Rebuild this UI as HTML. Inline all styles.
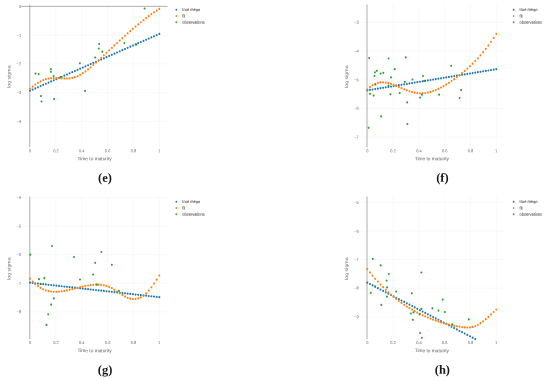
<!DOCTYPE html>
<html lang="en"><head><meta charset="utf-8"><title>Figure panels e–h</title>
<style>
html,body{margin:0;padding:0;background:#fff}
body{width:550px;height:381px;overflow:hidden}
svg{display:block}
svg text{font-family:"Liberation Sans",sans-serif;text-rendering:geometricPrecision}
.tk{font-size:4.15px;fill:#808080;stroke:#808080;stroke-width:0.06px}
.ti{font-size:4.81px;fill:#707070;stroke:#707070;stroke-width:0.05px}
.yl{font-size:5.28px;fill:#747474}
.lg{font-size:4.38px;fill:#5c5c5c;stroke:#5c5c5c;stroke-width:0.1px}
svg text.cap{font-family:"Liberation Serif",serif;font-weight:bold;font-size:12.5px;fill:#1a1a1a;stroke:none}
</style></head><body>
<svg width="550" height="381" viewBox="0 0 550 381">
<rect width="550" height="381" fill="#fff"/>
<g id="plot-e">
<path d="M55.86 4.6V147.4M81.72 4.6V147.4M107.58 4.6V147.4M133.44 4.6V147.4M159.3 4.6V147.4M22.3 35.2H167.5M22.3 63.9H167.5M22.3 92.6H167.5M22.3 121.3H167.5" stroke="#f4f4f4" stroke-width="0.55" fill="none"/>
<path d="M29.7 4.6V147.4" stroke="#c8c8c8" stroke-width="1.5" fill="none"/>
<path d="M21.1 6.4H167.5" stroke="#9e9e9e" stroke-width="0.8" fill="none"/>
<g fill="#1f77b4"><ellipse cx="30" cy="90.75" rx="1.0" ry="1.12"/><ellipse cx="32.64" cy="89.59" rx="1.0" ry="1.12"/><ellipse cx="35.28" cy="88.43" rx="1.0" ry="1.12"/><ellipse cx="37.92" cy="87.27" rx="1.0" ry="1.12"/><ellipse cx="40.56" cy="86.11" rx="1.0" ry="1.12"/><ellipse cx="43.19" cy="84.95" rx="1.0" ry="1.12"/><ellipse cx="45.83" cy="83.79" rx="1.0" ry="1.12"/><ellipse cx="48.47" cy="82.64" rx="1.0" ry="1.12"/><ellipse cx="51.11" cy="81.48" rx="1.0" ry="1.12"/><ellipse cx="53.75" cy="80.32" rx="1.0" ry="1.12"/><ellipse cx="56.39" cy="79.16" rx="1.0" ry="1.12"/><ellipse cx="59.03" cy="78" rx="1.0" ry="1.12"/><ellipse cx="61.67" cy="76.84" rx="1.0" ry="1.12"/><ellipse cx="64.3" cy="75.68" rx="1.0" ry="1.12"/><ellipse cx="66.94" cy="74.52" rx="1.0" ry="1.12"/><ellipse cx="69.58" cy="73.36" rx="1.0" ry="1.12"/><ellipse cx="72.22" cy="72.2" rx="1.0" ry="1.12"/><ellipse cx="74.86" cy="71.04" rx="1.0" ry="1.12"/><ellipse cx="77.5" cy="69.88" rx="1.0" ry="1.12"/><ellipse cx="80.14" cy="68.73" rx="1.0" ry="1.12"/><ellipse cx="82.78" cy="67.57" rx="1.0" ry="1.12"/><ellipse cx="85.41" cy="66.41" rx="1.0" ry="1.12"/><ellipse cx="88.05" cy="65.25" rx="1.0" ry="1.12"/><ellipse cx="90.69" cy="64.09" rx="1.0" ry="1.12"/><ellipse cx="93.33" cy="62.93" rx="1.0" ry="1.12"/><ellipse cx="95.97" cy="61.77" rx="1.0" ry="1.12"/><ellipse cx="98.61" cy="60.61" rx="1.0" ry="1.12"/><ellipse cx="101.25" cy="59.45" rx="1.0" ry="1.12"/><ellipse cx="103.89" cy="58.29" rx="1.0" ry="1.12"/><ellipse cx="106.52" cy="57.13" rx="1.0" ry="1.12"/><ellipse cx="109.16" cy="55.97" rx="1.0" ry="1.12"/><ellipse cx="111.8" cy="54.82" rx="1.0" ry="1.12"/><ellipse cx="114.44" cy="53.66" rx="1.0" ry="1.12"/><ellipse cx="117.08" cy="52.5" rx="1.0" ry="1.12"/><ellipse cx="119.72" cy="51.34" rx="1.0" ry="1.12"/><ellipse cx="122.36" cy="50.18" rx="1.0" ry="1.12"/><ellipse cx="125" cy="49.02" rx="1.0" ry="1.12"/><ellipse cx="127.63" cy="47.86" rx="1.0" ry="1.12"/><ellipse cx="130.27" cy="46.7" rx="1.0" ry="1.12"/><ellipse cx="132.91" cy="45.54" rx="1.0" ry="1.12"/><ellipse cx="135.55" cy="44.38" rx="1.0" ry="1.12"/><ellipse cx="138.19" cy="43.22" rx="1.0" ry="1.12"/><ellipse cx="140.83" cy="42.06" rx="1.0" ry="1.12"/><ellipse cx="143.47" cy="40.91" rx="1.0" ry="1.12"/><ellipse cx="146.11" cy="39.75" rx="1.0" ry="1.12"/><ellipse cx="148.74" cy="38.59" rx="1.0" ry="1.12"/><ellipse cx="151.38" cy="37.43" rx="1.0" ry="1.12"/><ellipse cx="154.02" cy="36.27" rx="1.0" ry="1.12"/><ellipse cx="156.66" cy="35.11" rx="1.0" ry="1.12"/><ellipse cx="159.3" cy="33.95" rx="1.0" ry="1.12"/></g>
<g fill="#ff7f0e"><ellipse cx="30" cy="88.97" rx="1.0" ry="1.12"/><ellipse cx="32.64" cy="86.63" rx="1.0" ry="1.12"/><ellipse cx="35.28" cy="84.58" rx="1.0" ry="1.12"/><ellipse cx="37.92" cy="82.81" rx="1.0" ry="1.12"/><ellipse cx="40.56" cy="81.32" rx="1.0" ry="1.12"/><ellipse cx="43.19" cy="80.11" rx="1.0" ry="1.12"/><ellipse cx="45.83" cy="79.18" rx="1.0" ry="1.12"/><ellipse cx="48.47" cy="78.52" rx="1.0" ry="1.12"/><ellipse cx="51.11" cy="78.14" rx="1.0" ry="1.12"/><ellipse cx="53.75" cy="78.02" rx="1.0" ry="1.12"/><ellipse cx="56.39" cy="78.08" rx="1.0" ry="1.12"/><ellipse cx="59.03" cy="78.25" rx="1.0" ry="1.12"/><ellipse cx="61.67" cy="78.45" rx="1.0" ry="1.12"/><ellipse cx="64.3" cy="78.6" rx="1.0" ry="1.12"/><ellipse cx="66.94" cy="78.62" rx="1.0" ry="1.12"/><ellipse cx="69.58" cy="78.45" rx="1.0" ry="1.12"/><ellipse cx="72.22" cy="77.99" rx="1.0" ry="1.12"/><ellipse cx="74.86" cy="77.21" rx="1.0" ry="1.12"/><ellipse cx="77.5" cy="76.13" rx="1.0" ry="1.12"/><ellipse cx="80.14" cy="74.78" rx="1.0" ry="1.12"/><ellipse cx="82.78" cy="73.19" rx="1.0" ry="1.12"/><ellipse cx="85.41" cy="71.39" rx="1.0" ry="1.12"/><ellipse cx="88.05" cy="69.41" rx="1.0" ry="1.12"/><ellipse cx="90.69" cy="67.27" rx="1.0" ry="1.12"/><ellipse cx="93.33" cy="65.02" rx="1.0" ry="1.12"/><ellipse cx="95.97" cy="62.66" rx="1.0" ry="1.12"/><ellipse cx="98.61" cy="60.25" rx="1.0" ry="1.12"/><ellipse cx="101.25" cy="57.8" rx="1.0" ry="1.12"/><ellipse cx="103.89" cy="55.33" rx="1.0" ry="1.12"/><ellipse cx="106.52" cy="52.87" rx="1.0" ry="1.12"/><ellipse cx="109.16" cy="50.4" rx="1.0" ry="1.12"/><ellipse cx="111.8" cy="47.94" rx="1.0" ry="1.12"/><ellipse cx="114.44" cy="45.48" rx="1.0" ry="1.12"/><ellipse cx="117.08" cy="43.04" rx="1.0" ry="1.12"/><ellipse cx="119.72" cy="40.61" rx="1.0" ry="1.12"/><ellipse cx="122.36" cy="38.2" rx="1.0" ry="1.12"/><ellipse cx="125" cy="35.82" rx="1.0" ry="1.12"/><ellipse cx="127.63" cy="33.46" rx="1.0" ry="1.12"/><ellipse cx="130.27" cy="31.14" rx="1.0" ry="1.12"/><ellipse cx="132.91" cy="28.85" rx="1.0" ry="1.12"/><ellipse cx="135.55" cy="26.6" rx="1.0" ry="1.12"/><ellipse cx="138.19" cy="24.4" rx="1.0" ry="1.12"/><ellipse cx="140.83" cy="22.25" rx="1.0" ry="1.12"/><ellipse cx="143.47" cy="20.15" rx="1.0" ry="1.12"/><ellipse cx="146.11" cy="18.11" rx="1.0" ry="1.12"/><ellipse cx="148.74" cy="16.13" rx="1.0" ry="1.12"/><ellipse cx="151.38" cy="14.22" rx="1.0" ry="1.12"/><ellipse cx="154.02" cy="12.37" rx="1.0" ry="1.12"/><ellipse cx="156.66" cy="10.6" rx="1.0" ry="1.12"/><ellipse cx="159.3" cy="8.91" rx="1.0" ry="1.12"/></g>
<g fill="#2ca02c"><ellipse cx="35.5" cy="73.6" rx="1.0" ry="1.12"/><ellipse cx="38.6" cy="74.1" rx="1.0" ry="1.12"/><ellipse cx="50.9" cy="69.2" rx="1.0" ry="1.12"/><ellipse cx="50.9" cy="71.8" rx="1.0" ry="1.12"/><ellipse cx="53.6" cy="76" rx="1.0" ry="1.12"/><ellipse cx="60.4" cy="77.2" rx="1.0" ry="1.12"/><ellipse cx="41" cy="96.1" rx="1.0" ry="1.12"/><ellipse cx="41.5" cy="101.5" rx="1.0" ry="1.12"/><ellipse cx="54.1" cy="99.1" rx="1.0" ry="1.12"/><ellipse cx="79.9" cy="63.3" rx="1.0" ry="1.12"/><ellipse cx="85" cy="90.9" rx="1.0" ry="1.12"/><ellipse cx="95.1" cy="57.5" rx="1.0" ry="1.12"/><ellipse cx="99.2" cy="44.1" rx="1.0" ry="1.12"/><ellipse cx="98.8" cy="48.5" rx="1.0" ry="1.12"/><ellipse cx="102.3" cy="51.7" rx="1.0" ry="1.12"/><ellipse cx="124.4" cy="43" rx="1.0" ry="1.12"/><ellipse cx="136.3" cy="44.7" rx="1.0" ry="1.12"/><ellipse cx="144.6" cy="8.5" rx="1.0" ry="1.12"/></g>
<text class="tk" text-anchor="end" transform="matrix(0.95 0.002 0 1 21.1 7.95)">0</text>
<text class="tk" text-anchor="end" transform="matrix(0.95 0.002 0 1 21.1 36.65)">−1</text>
<text class="tk" text-anchor="end" transform="matrix(0.95 0.002 0 1 21.1 65.35)">−2</text>
<text class="tk" text-anchor="end" transform="matrix(0.95 0.002 0 1 21.1 94.05)">−3</text>
<text class="tk" text-anchor="end" transform="matrix(0.95 0.002 0 1 21.1 122.75)">−4</text>
<text class="tk" text-anchor="middle" transform="matrix(0.95 0.002 0 1 30 152.15)">0</text>
<text class="tk" text-anchor="middle" transform="matrix(0.95 0.002 0 1 55.86 152.15)">0.2</text>
<text class="tk" text-anchor="middle" transform="matrix(0.95 0.002 0 1 81.72 152.15)">0.4</text>
<text class="tk" text-anchor="middle" transform="matrix(0.95 0.002 0 1 107.58 152.15)">0.6</text>
<text class="tk" text-anchor="middle" transform="matrix(0.95 0.002 0 1 133.44 152.15)">0.8</text>
<text class="tk" text-anchor="middle" transform="matrix(0.95 0.002 0 1 159.3 152.15)">1</text>
<text class="ti" text-anchor="middle" transform="matrix(1.0 0.002 0 1 94.65 160.25)">Time to maturity</text>
<text class="yl" text-anchor="middle" transform="matrix(0.002 -1 0.88 0 10.6 76.7)">log sigma</text>
<ellipse cx="176.3" cy="9.7" rx="0.85" ry="0.95" fill="#1f77b4"/><text class="lg" transform="matrix(0.905 0.002 0 1 182.3 11.1)">true mean</text>
<ellipse cx="176.3" cy="16" rx="0.85" ry="0.95" fill="#ff7f0e"/><text class="lg" transform="matrix(0.905 0.002 0 1 182.3 17.4)">fit</text>
<ellipse cx="176.3" cy="22.3" rx="0.85" ry="0.95" fill="#2ca02c"/><text class="lg" transform="matrix(0.905 0.002 0 1 182.3 23.7)">observations</text>
<text class="cap" text-anchor="middle" transform="matrix(1 0.002 0 1 105 181.85)">(e)</text>
</g>
<g id="plot-f">
<path d="M393.1 4.6V147.4M418.9 4.6V147.4M444.7 4.6V147.4M470.5 4.6V147.4M496.3 4.6V147.4M359.8 22.4H504.8M359.8 51.1H504.8M359.8 79.7H504.8M359.8 108.4H504.8M359.8 137H504.8" stroke="#f4f4f4" stroke-width="0.55" fill="none"/>
<path d="M367 4.6V147.4" stroke="#c8c8c8" stroke-width="1.5" fill="none"/>
<g fill="#1f77b4"><ellipse cx="367.3" cy="90.4" rx="1.0" ry="1.12"/><ellipse cx="369.93" cy="89.97" rx="1.0" ry="1.12"/><ellipse cx="372.57" cy="89.53" rx="1.0" ry="1.12"/><ellipse cx="375.2" cy="89.1" rx="1.0" ry="1.12"/><ellipse cx="377.83" cy="88.67" rx="1.0" ry="1.12"/><ellipse cx="380.46" cy="88.24" rx="1.0" ry="1.12"/><ellipse cx="383.1" cy="87.8" rx="1.0" ry="1.12"/><ellipse cx="385.73" cy="87.37" rx="1.0" ry="1.12"/><ellipse cx="388.36" cy="86.94" rx="1.0" ry="1.12"/><ellipse cx="390.99" cy="86.51" rx="1.0" ry="1.12"/><ellipse cx="393.63" cy="86.07" rx="1.0" ry="1.12"/><ellipse cx="396.26" cy="85.64" rx="1.0" ry="1.12"/><ellipse cx="398.89" cy="85.21" rx="1.0" ry="1.12"/><ellipse cx="401.52" cy="84.78" rx="1.0" ry="1.12"/><ellipse cx="404.16" cy="84.34" rx="1.0" ry="1.12"/><ellipse cx="406.79" cy="83.91" rx="1.0" ry="1.12"/><ellipse cx="409.42" cy="83.48" rx="1.0" ry="1.12"/><ellipse cx="412.06" cy="83.04" rx="1.0" ry="1.12"/><ellipse cx="414.69" cy="82.61" rx="1.0" ry="1.12"/><ellipse cx="417.32" cy="82.18" rx="1.0" ry="1.12"/><ellipse cx="419.95" cy="81.75" rx="1.0" ry="1.12"/><ellipse cx="422.59" cy="81.31" rx="1.0" ry="1.12"/><ellipse cx="425.22" cy="80.88" rx="1.0" ry="1.12"/><ellipse cx="427.85" cy="80.45" rx="1.0" ry="1.12"/><ellipse cx="430.48" cy="80.02" rx="1.0" ry="1.12"/><ellipse cx="433.12" cy="79.58" rx="1.0" ry="1.12"/><ellipse cx="435.75" cy="79.15" rx="1.0" ry="1.12"/><ellipse cx="438.38" cy="78.72" rx="1.0" ry="1.12"/><ellipse cx="441.01" cy="78.29" rx="1.0" ry="1.12"/><ellipse cx="443.65" cy="77.85" rx="1.0" ry="1.12"/><ellipse cx="446.28" cy="77.42" rx="1.0" ry="1.12"/><ellipse cx="448.91" cy="76.99" rx="1.0" ry="1.12"/><ellipse cx="451.54" cy="76.56" rx="1.0" ry="1.12"/><ellipse cx="454.18" cy="76.12" rx="1.0" ry="1.12"/><ellipse cx="456.81" cy="75.69" rx="1.0" ry="1.12"/><ellipse cx="459.44" cy="75.26" rx="1.0" ry="1.12"/><ellipse cx="462.08" cy="74.82" rx="1.0" ry="1.12"/><ellipse cx="464.71" cy="74.39" rx="1.0" ry="1.12"/><ellipse cx="467.34" cy="73.96" rx="1.0" ry="1.12"/><ellipse cx="469.97" cy="73.53" rx="1.0" ry="1.12"/><ellipse cx="472.61" cy="73.09" rx="1.0" ry="1.12"/><ellipse cx="475.24" cy="72.66" rx="1.0" ry="1.12"/><ellipse cx="477.87" cy="72.23" rx="1.0" ry="1.12"/><ellipse cx="480.5" cy="71.8" rx="1.0" ry="1.12"/><ellipse cx="483.14" cy="71.36" rx="1.0" ry="1.12"/><ellipse cx="485.77" cy="70.93" rx="1.0" ry="1.12"/><ellipse cx="488.4" cy="70.5" rx="1.0" ry="1.12"/><ellipse cx="491.03" cy="70.07" rx="1.0" ry="1.12"/><ellipse cx="493.67" cy="69.63" rx="1.0" ry="1.12"/><ellipse cx="496.3" cy="69.2" rx="1.0" ry="1.12"/></g>
<g fill="#ff7f0e"><ellipse cx="367.3" cy="89.68" rx="1.0" ry="1.12"/><ellipse cx="369.93" cy="87.14" rx="1.0" ry="1.12"/><ellipse cx="372.57" cy="85.2" rx="1.0" ry="1.12"/><ellipse cx="375.2" cy="83.8" rx="1.0" ry="1.12"/><ellipse cx="377.83" cy="82.9" rx="1.0" ry="1.12"/><ellipse cx="380.46" cy="82.44" rx="1.0" ry="1.12"/><ellipse cx="383.1" cy="82.36" rx="1.0" ry="1.12"/><ellipse cx="385.73" cy="82.63" rx="1.0" ry="1.12"/><ellipse cx="388.36" cy="83.17" rx="1.0" ry="1.12"/><ellipse cx="390.99" cy="83.93" rx="1.0" ry="1.12"/><ellipse cx="393.63" cy="84.87" rx="1.0" ry="1.12"/><ellipse cx="396.26" cy="85.93" rx="1.0" ry="1.12"/><ellipse cx="398.89" cy="87.06" rx="1.0" ry="1.12"/><ellipse cx="401.52" cy="88.2" rx="1.0" ry="1.12"/><ellipse cx="404.16" cy="89.32" rx="1.0" ry="1.12"/><ellipse cx="406.79" cy="90.37" rx="1.0" ry="1.12"/><ellipse cx="409.42" cy="91.3" rx="1.0" ry="1.12"/><ellipse cx="412.06" cy="92.09" rx="1.0" ry="1.12"/><ellipse cx="414.69" cy="92.69" rx="1.0" ry="1.12"/><ellipse cx="417.32" cy="93.09" rx="1.0" ry="1.12"/><ellipse cx="419.95" cy="93.28" rx="1.0" ry="1.12"/><ellipse cx="422.59" cy="93.25" rx="1.0" ry="1.12"/><ellipse cx="425.22" cy="93" rx="1.0" ry="1.12"/><ellipse cx="427.85" cy="92.54" rx="1.0" ry="1.12"/><ellipse cx="430.48" cy="91.88" rx="1.0" ry="1.12"/><ellipse cx="433.12" cy="91.03" rx="1.0" ry="1.12"/><ellipse cx="435.75" cy="90.01" rx="1.0" ry="1.12"/><ellipse cx="438.38" cy="88.83" rx="1.0" ry="1.12"/><ellipse cx="441.01" cy="87.5" rx="1.0" ry="1.12"/><ellipse cx="443.65" cy="86.04" rx="1.0" ry="1.12"/><ellipse cx="446.28" cy="84.47" rx="1.0" ry="1.12"/><ellipse cx="448.91" cy="82.78" rx="1.0" ry="1.12"/><ellipse cx="451.54" cy="81" rx="1.0" ry="1.12"/><ellipse cx="454.18" cy="79.13" rx="1.0" ry="1.12"/><ellipse cx="456.81" cy="77.2" rx="1.0" ry="1.12"/><ellipse cx="459.44" cy="75.19" rx="1.0" ry="1.12"/><ellipse cx="462.08" cy="73.1" rx="1.0" ry="1.12"/><ellipse cx="464.71" cy="70.92" rx="1.0" ry="1.12"/><ellipse cx="467.34" cy="68.64" rx="1.0" ry="1.12"/><ellipse cx="469.97" cy="66.24" rx="1.0" ry="1.12"/><ellipse cx="472.61" cy="63.72" rx="1.0" ry="1.12"/><ellipse cx="475.24" cy="61.07" rx="1.0" ry="1.12"/><ellipse cx="477.87" cy="58.27" rx="1.0" ry="1.12"/><ellipse cx="480.5" cy="55.33" rx="1.0" ry="1.12"/><ellipse cx="483.14" cy="52.22" rx="1.0" ry="1.12"/><ellipse cx="485.77" cy="48.93" rx="1.0" ry="1.12"/><ellipse cx="488.4" cy="45.47" rx="1.0" ry="1.12"/><ellipse cx="491.03" cy="41.81" rx="1.0" ry="1.12"/><ellipse cx="493.67" cy="37.95" rx="1.0" ry="1.12"/><ellipse cx="496.3" cy="33.88" rx="1.0" ry="1.12"/></g>
<g fill="#2ca02c"><ellipse cx="369.2" cy="58.1" rx="1.0" ry="1.12"/><ellipse cx="388.5" cy="58.5" rx="1.0" ry="1.12"/><ellipse cx="405.7" cy="57.4" rx="1.0" ry="1.12"/><ellipse cx="394.7" cy="69.2" rx="1.0" ry="1.12"/><ellipse cx="376.9" cy="70.8" rx="1.0" ry="1.12"/><ellipse cx="374.9" cy="72.3" rx="1.0" ry="1.12"/><ellipse cx="380.6" cy="73.6" rx="1.0" ry="1.12"/><ellipse cx="383.3" cy="72.8" rx="1.0" ry="1.12"/><ellipse cx="374.5" cy="76" rx="1.0" ry="1.12"/><ellipse cx="391" cy="77.4" rx="1.0" ry="1.12"/><ellipse cx="375.4" cy="84.6" rx="1.0" ry="1.12"/><ellipse cx="388.5" cy="85.5" rx="1.0" ry="1.12"/><ellipse cx="404.8" cy="81.8" rx="1.0" ry="1.12"/><ellipse cx="412.5" cy="79.6" rx="1.0" ry="1.12"/><ellipse cx="423" cy="76" rx="1.0" ry="1.12"/><ellipse cx="424.1" cy="80.9" rx="1.0" ry="1.12"/><ellipse cx="370.1" cy="93.8" rx="1.0" ry="1.12"/><ellipse cx="373.6" cy="95.6" rx="1.0" ry="1.12"/><ellipse cx="390.5" cy="94.3" rx="1.0" ry="1.12"/><ellipse cx="399.7" cy="93.1" rx="1.0" ry="1.12"/><ellipse cx="421.9" cy="94.7" rx="1.0" ry="1.12"/><ellipse cx="420.1" cy="97.6" rx="1.0" ry="1.12"/><ellipse cx="407.2" cy="102.4" rx="1.0" ry="1.12"/><ellipse cx="381.1" cy="116.4" rx="1.0" ry="1.12"/><ellipse cx="407.4" cy="124.1" rx="1.0" ry="1.12"/><ellipse cx="368.6" cy="127.8" rx="1.0" ry="1.12"/><ellipse cx="451.2" cy="65.8" rx="1.0" ry="1.12"/><ellipse cx="461.1" cy="89.9" rx="1.0" ry="1.12"/><ellipse cx="439" cy="94.7" rx="1.0" ry="1.12"/><ellipse cx="459.6" cy="98" rx="1.0" ry="1.12"/></g>
<text class="tk" text-anchor="end" transform="matrix(0.95 0.002 0 1 358.6 23.85)">−3</text>
<text class="tk" text-anchor="end" transform="matrix(0.95 0.002 0 1 358.6 52.55)">−4</text>
<text class="tk" text-anchor="end" transform="matrix(0.95 0.002 0 1 358.6 81.15)">−5</text>
<text class="tk" text-anchor="end" transform="matrix(0.95 0.002 0 1 358.6 109.85)">−6</text>
<text class="tk" text-anchor="end" transform="matrix(0.95 0.002 0 1 358.6 138.45)">−7</text>
<text class="tk" text-anchor="middle" transform="matrix(0.95 0.002 0 1 367.3 152.15)">0</text>
<text class="tk" text-anchor="middle" transform="matrix(0.95 0.002 0 1 393.1 152.15)">0.2</text>
<text class="tk" text-anchor="middle" transform="matrix(0.95 0.002 0 1 418.9 152.15)">0.4</text>
<text class="tk" text-anchor="middle" transform="matrix(0.95 0.002 0 1 444.7 152.15)">0.6</text>
<text class="tk" text-anchor="middle" transform="matrix(0.95 0.002 0 1 470.5 152.15)">0.8</text>
<text class="tk" text-anchor="middle" transform="matrix(0.95 0.002 0 1 496.3 152.15)">1</text>
<text class="ti" text-anchor="middle" transform="matrix(1.0 0.002 0 1 431.8 160.25)">Time to maturity</text>
<text class="yl" text-anchor="middle" transform="matrix(0.002 -1 0.88 0 348.1 76.7)">log sigma</text>
<ellipse cx="513.6" cy="9.7" rx="0.85" ry="0.95" fill="#1f77b4"/><text class="lg" transform="matrix(0.905 0.002 0 1 519.6 11.1)">true mean</text>
<ellipse cx="513.6" cy="16" rx="0.85" ry="0.95" fill="#ff7f0e"/><text class="lg" transform="matrix(0.905 0.002 0 1 519.6 17.4)">fit</text>
<ellipse cx="513.6" cy="22.3" rx="0.85" ry="0.95" fill="#2ca02c"/><text class="lg" transform="matrix(0.905 0.002 0 1 519.6 23.7)">observations</text>
<text class="cap" text-anchor="middle" transform="matrix(1 0.002 0 1 442.4 181.85)">(f)</text>
</g>
<g id="plot-g">
<path d="M55.86 196.6V339.3M81.72 196.6V339.3M107.58 196.6V339.3M133.44 196.6V339.3M159.3 196.6V339.3M22.3 197.4H167.5M22.3 226H167.5M22.3 254.6H167.5M22.3 283.2H167.5M22.3 311.9H167.5" stroke="#f4f4f4" stroke-width="0.55" fill="none"/>
<path d="M29.7 196.6V339.3" stroke="#c8c8c8" stroke-width="1.5" fill="none"/>
<g fill="#1f77b4"><ellipse cx="30" cy="282.7" rx="1.0" ry="1.12"/><ellipse cx="32.64" cy="283" rx="1.0" ry="1.12"/><ellipse cx="35.28" cy="283.29" rx="1.0" ry="1.12"/><ellipse cx="37.92" cy="283.59" rx="1.0" ry="1.12"/><ellipse cx="40.56" cy="283.88" rx="1.0" ry="1.12"/><ellipse cx="43.19" cy="284.18" rx="1.0" ry="1.12"/><ellipse cx="45.83" cy="284.48" rx="1.0" ry="1.12"/><ellipse cx="48.47" cy="284.77" rx="1.0" ry="1.12"/><ellipse cx="51.11" cy="285.07" rx="1.0" ry="1.12"/><ellipse cx="53.75" cy="285.36" rx="1.0" ry="1.12"/><ellipse cx="56.39" cy="285.66" rx="1.0" ry="1.12"/><ellipse cx="59.03" cy="285.96" rx="1.0" ry="1.12"/><ellipse cx="61.67" cy="286.25" rx="1.0" ry="1.12"/><ellipse cx="64.3" cy="286.55" rx="1.0" ry="1.12"/><ellipse cx="66.94" cy="286.84" rx="1.0" ry="1.12"/><ellipse cx="69.58" cy="287.14" rx="1.0" ry="1.12"/><ellipse cx="72.22" cy="287.43" rx="1.0" ry="1.12"/><ellipse cx="74.86" cy="287.73" rx="1.0" ry="1.12"/><ellipse cx="77.5" cy="288.03" rx="1.0" ry="1.12"/><ellipse cx="80.14" cy="288.32" rx="1.0" ry="1.12"/><ellipse cx="82.78" cy="288.62" rx="1.0" ry="1.12"/><ellipse cx="85.41" cy="288.91" rx="1.0" ry="1.12"/><ellipse cx="88.05" cy="289.21" rx="1.0" ry="1.12"/><ellipse cx="90.69" cy="289.51" rx="1.0" ry="1.12"/><ellipse cx="93.33" cy="289.8" rx="1.0" ry="1.12"/><ellipse cx="95.97" cy="290.1" rx="1.0" ry="1.12"/><ellipse cx="98.61" cy="290.39" rx="1.0" ry="1.12"/><ellipse cx="101.25" cy="290.69" rx="1.0" ry="1.12"/><ellipse cx="103.89" cy="290.99" rx="1.0" ry="1.12"/><ellipse cx="106.52" cy="291.28" rx="1.0" ry="1.12"/><ellipse cx="109.16" cy="291.58" rx="1.0" ry="1.12"/><ellipse cx="111.8" cy="291.87" rx="1.0" ry="1.12"/><ellipse cx="114.44" cy="292.17" rx="1.0" ry="1.12"/><ellipse cx="117.08" cy="292.47" rx="1.0" ry="1.12"/><ellipse cx="119.72" cy="292.76" rx="1.0" ry="1.12"/><ellipse cx="122.36" cy="293.06" rx="1.0" ry="1.12"/><ellipse cx="125" cy="293.35" rx="1.0" ry="1.12"/><ellipse cx="127.63" cy="293.65" rx="1.0" ry="1.12"/><ellipse cx="130.27" cy="293.94" rx="1.0" ry="1.12"/><ellipse cx="132.91" cy="294.24" rx="1.0" ry="1.12"/><ellipse cx="135.55" cy="294.54" rx="1.0" ry="1.12"/><ellipse cx="138.19" cy="294.83" rx="1.0" ry="1.12"/><ellipse cx="140.83" cy="295.13" rx="1.0" ry="1.12"/><ellipse cx="143.47" cy="295.42" rx="1.0" ry="1.12"/><ellipse cx="146.11" cy="295.72" rx="1.0" ry="1.12"/><ellipse cx="148.74" cy="296.02" rx="1.0" ry="1.12"/><ellipse cx="151.38" cy="296.31" rx="1.0" ry="1.12"/><ellipse cx="154.02" cy="296.61" rx="1.0" ry="1.12"/><ellipse cx="156.66" cy="296.9" rx="1.0" ry="1.12"/><ellipse cx="159.3" cy="297.2" rx="1.0" ry="1.12"/></g>
<g fill="#ff7f0e"><ellipse cx="30" cy="278.7" rx="1.0" ry="1.12"/><ellipse cx="32.64" cy="281.65" rx="1.0" ry="1.12"/><ellipse cx="35.28" cy="284.15" rx="1.0" ry="1.12"/><ellipse cx="37.92" cy="286.24" rx="1.0" ry="1.12"/><ellipse cx="40.56" cy="287.95" rx="1.0" ry="1.12"/><ellipse cx="43.19" cy="289.3" rx="1.0" ry="1.12"/><ellipse cx="45.83" cy="290.33" rx="1.0" ry="1.12"/><ellipse cx="48.47" cy="291.06" rx="1.0" ry="1.12"/><ellipse cx="51.11" cy="291.53" rx="1.0" ry="1.12"/><ellipse cx="53.75" cy="291.76" rx="1.0" ry="1.12"/><ellipse cx="56.39" cy="291.78" rx="1.0" ry="1.12"/><ellipse cx="59.03" cy="291.62" rx="1.0" ry="1.12"/><ellipse cx="61.67" cy="291.31" rx="1.0" ry="1.12"/><ellipse cx="64.3" cy="290.88" rx="1.0" ry="1.12"/><ellipse cx="66.94" cy="290.35" rx="1.0" ry="1.12"/><ellipse cx="69.58" cy="289.77" rx="1.0" ry="1.12"/><ellipse cx="72.22" cy="289.13" rx="1.0" ry="1.12"/><ellipse cx="74.86" cy="288.48" rx="1.0" ry="1.12"/><ellipse cx="77.5" cy="287.81" rx="1.0" ry="1.12"/><ellipse cx="80.14" cy="287.17" rx="1.0" ry="1.12"/><ellipse cx="82.78" cy="286.55" rx="1.0" ry="1.12"/><ellipse cx="85.41" cy="285.99" rx="1.0" ry="1.12"/><ellipse cx="88.05" cy="285.5" rx="1.0" ry="1.12"/><ellipse cx="90.69" cy="285.11" rx="1.0" ry="1.12"/><ellipse cx="93.33" cy="284.82" rx="1.0" ry="1.12"/><ellipse cx="95.97" cy="284.67" rx="1.0" ry="1.12"/><ellipse cx="98.61" cy="284.68" rx="1.0" ry="1.12"/><ellipse cx="101.25" cy="284.88" rx="1.0" ry="1.12"/><ellipse cx="103.89" cy="285.3" rx="1.0" ry="1.12"/><ellipse cx="106.52" cy="285.97" rx="1.0" ry="1.12"/><ellipse cx="109.16" cy="286.94" rx="1.0" ry="1.12"/><ellipse cx="111.8" cy="288.22" rx="1.0" ry="1.12"/><ellipse cx="114.44" cy="289.8" rx="1.0" ry="1.12"/><ellipse cx="117.08" cy="291.55" rx="1.0" ry="1.12"/><ellipse cx="119.72" cy="293.35" rx="1.0" ry="1.12"/><ellipse cx="122.36" cy="295.08" rx="1.0" ry="1.12"/><ellipse cx="125" cy="296.62" rx="1.0" ry="1.12"/><ellipse cx="127.63" cy="297.85" rx="1.0" ry="1.12"/><ellipse cx="130.27" cy="298.68" rx="1.0" ry="1.12"/><ellipse cx="132.91" cy="299.08" rx="1.0" ry="1.12"/><ellipse cx="135.55" cy="299.02" rx="1.0" ry="1.12"/><ellipse cx="138.19" cy="298.45" rx="1.0" ry="1.12"/><ellipse cx="140.83" cy="297.35" rx="1.0" ry="1.12"/><ellipse cx="143.47" cy="295.68" rx="1.0" ry="1.12"/><ellipse cx="146.11" cy="293.4" rx="1.0" ry="1.12"/><ellipse cx="148.74" cy="290.57" rx="1.0" ry="1.12"/><ellipse cx="151.38" cy="287.28" rx="1.0" ry="1.12"/><ellipse cx="154.02" cy="283.62" rx="1.0" ry="1.12"/><ellipse cx="156.66" cy="279.68" rx="1.0" ry="1.12"/><ellipse cx="159.3" cy="275.56" rx="1.0" ry="1.12"/></g>
<g fill="#2ca02c"><ellipse cx="30.3" cy="254.7" rx="1.0" ry="1.12"/><ellipse cx="52" cy="246" rx="1.0" ry="1.12"/><ellipse cx="74" cy="257" rx="1.0" ry="1.12"/><ellipse cx="101.3" cy="252" rx="1.0" ry="1.12"/><ellipse cx="95.2" cy="262.8" rx="1.0" ry="1.12"/><ellipse cx="111.9" cy="264.8" rx="1.0" ry="1.12"/><ellipse cx="93.1" cy="274.5" rx="1.0" ry="1.12"/><ellipse cx="39" cy="279.2" rx="1.0" ry="1.12"/><ellipse cx="44.3" cy="278.2" rx="1.0" ry="1.12"/><ellipse cx="80" cy="279.5" rx="1.0" ry="1.12"/><ellipse cx="40.8" cy="284.1" rx="1.0" ry="1.12"/><ellipse cx="96.9" cy="284.7" rx="1.0" ry="1.12"/><ellipse cx="118.9" cy="290.9" rx="1.0" ry="1.12"/><ellipse cx="53.9" cy="298.4" rx="1.0" ry="1.12"/><ellipse cx="51.1" cy="304.7" rx="1.0" ry="1.12"/><ellipse cx="48.2" cy="314.3" rx="1.0" ry="1.12"/><ellipse cx="46.5" cy="324.9" rx="1.0" ry="1.12"/></g>
<text class="tk" text-anchor="end" transform="matrix(0.95 0.002 0 1 21.1 198.85)">−4</text>
<text class="tk" text-anchor="end" transform="matrix(0.95 0.002 0 1 21.1 227.45)">−5</text>
<text class="tk" text-anchor="end" transform="matrix(0.95 0.002 0 1 21.1 256.05)">−6</text>
<text class="tk" text-anchor="end" transform="matrix(0.95 0.002 0 1 21.1 284.65)">−7</text>
<text class="tk" text-anchor="end" transform="matrix(0.95 0.002 0 1 21.1 313.35)">−8</text>
<text class="tk" text-anchor="middle" transform="matrix(0.95 0.002 0 1 30 344.05)">0</text>
<text class="tk" text-anchor="middle" transform="matrix(0.95 0.002 0 1 55.86 344.05)">0.2</text>
<text class="tk" text-anchor="middle" transform="matrix(0.95 0.002 0 1 81.72 344.05)">0.4</text>
<text class="tk" text-anchor="middle" transform="matrix(0.95 0.002 0 1 107.58 344.05)">0.6</text>
<text class="tk" text-anchor="middle" transform="matrix(0.95 0.002 0 1 133.44 344.05)">0.8</text>
<text class="tk" text-anchor="middle" transform="matrix(0.95 0.002 0 1 159.3 344.05)">1</text>
<text class="ti" text-anchor="middle" transform="matrix(1.0 0.002 0 1 94.65 352.15)">Time to maturity</text>
<text class="yl" text-anchor="middle" transform="matrix(0.002 -1 0.88 0 10.6 268.65)">log sigma</text>
<ellipse cx="176.3" cy="201.7" rx="0.85" ry="0.95" fill="#1f77b4"/><text class="lg" transform="matrix(0.905 0.002 0 1 182.3 203.1)">true mean</text>
<ellipse cx="176.3" cy="208" rx="0.85" ry="0.95" fill="#ff7f0e"/><text class="lg" transform="matrix(0.905 0.002 0 1 182.3 209.4)">fit</text>
<ellipse cx="176.3" cy="214.3" rx="0.85" ry="0.95" fill="#2ca02c"/><text class="lg" transform="matrix(0.905 0.002 0 1 182.3 215.7)">observations</text>
<text class="cap" text-anchor="middle" transform="matrix(1 0.002 0 1 105 373.75)">(g)</text>
</g>
<g id="plot-h">
<path d="M393.1 196.6V339.3M418.9 196.6V339.3M444.7 196.6V339.3M470.5 196.6V339.3M496.3 196.6V339.3M359.8 202.5H504.8M359.8 231.2H504.8M359.8 259.4H504.8M359.8 288.1H504.8M359.8 316.9H504.8" stroke="#f4f4f4" stroke-width="0.55" fill="none"/>
<path d="M367 196.6V339.3" stroke="#c8c8c8" stroke-width="1.5" fill="none"/>
<g fill="#1f77b4"><ellipse cx="367.3" cy="282.7" rx="1.0" ry="1.12"/><ellipse cx="369.93" cy="284.08" rx="1.0" ry="1.12"/><ellipse cx="372.57" cy="285.45" rx="1.0" ry="1.12"/><ellipse cx="375.2" cy="286.83" rx="1.0" ry="1.12"/><ellipse cx="377.83" cy="288.2" rx="1.0" ry="1.12"/><ellipse cx="380.46" cy="289.58" rx="1.0" ry="1.12"/><ellipse cx="383.1" cy="290.96" rx="1.0" ry="1.12"/><ellipse cx="385.73" cy="292.33" rx="1.0" ry="1.12"/><ellipse cx="388.36" cy="293.71" rx="1.0" ry="1.12"/><ellipse cx="390.99" cy="295.08" rx="1.0" ry="1.12"/><ellipse cx="393.63" cy="296.46" rx="1.0" ry="1.12"/><ellipse cx="396.26" cy="297.83" rx="1.0" ry="1.12"/><ellipse cx="398.89" cy="299.21" rx="1.0" ry="1.12"/><ellipse cx="401.52" cy="300.59" rx="1.0" ry="1.12"/><ellipse cx="404.16" cy="301.96" rx="1.0" ry="1.12"/><ellipse cx="406.79" cy="303.34" rx="1.0" ry="1.12"/><ellipse cx="409.42" cy="304.71" rx="1.0" ry="1.12"/><ellipse cx="412.06" cy="306.09" rx="1.0" ry="1.12"/><ellipse cx="414.69" cy="307.47" rx="1.0" ry="1.12"/><ellipse cx="417.32" cy="308.84" rx="1.0" ry="1.12"/><ellipse cx="419.95" cy="310.22" rx="1.0" ry="1.12"/><ellipse cx="422.59" cy="311.59" rx="1.0" ry="1.12"/><ellipse cx="425.22" cy="312.97" rx="1.0" ry="1.12"/><ellipse cx="427.85" cy="314.35" rx="1.0" ry="1.12"/><ellipse cx="430.48" cy="315.72" rx="1.0" ry="1.12"/><ellipse cx="433.12" cy="317.1" rx="1.0" ry="1.12"/><ellipse cx="435.75" cy="318.47" rx="1.0" ry="1.12"/><ellipse cx="438.38" cy="319.85" rx="1.0" ry="1.12"/><ellipse cx="441.01" cy="321.22" rx="1.0" ry="1.12"/><ellipse cx="443.65" cy="322.6" rx="1.0" ry="1.12"/><ellipse cx="446.28" cy="323.98" rx="1.0" ry="1.12"/><ellipse cx="448.91" cy="325.35" rx="1.0" ry="1.12"/><ellipse cx="451.54" cy="326.73" rx="1.0" ry="1.12"/><ellipse cx="454.18" cy="328.1" rx="1.0" ry="1.12"/><ellipse cx="456.81" cy="329.48" rx="1.0" ry="1.12"/><ellipse cx="459.44" cy="330.86" rx="1.0" ry="1.12"/><ellipse cx="462.08" cy="332.23" rx="1.0" ry="1.12"/><ellipse cx="464.71" cy="333.61" rx="1.0" ry="1.12"/><ellipse cx="467.34" cy="334.98" rx="1.0" ry="1.12"/><ellipse cx="469.97" cy="336.36" rx="1.0" ry="1.12"/><ellipse cx="472.61" cy="337.74" rx="1.0" ry="1.12"/><ellipse cx="475.24" cy="339.11" rx="1.0" ry="1.12"/></g>
<g fill="#ff7f0e"><ellipse cx="367.3" cy="269.14" rx="1.0" ry="1.12"/><ellipse cx="369.93" cy="272.49" rx="1.0" ry="1.12"/><ellipse cx="372.57" cy="275.7" rx="1.0" ry="1.12"/><ellipse cx="375.2" cy="278.77" rx="1.0" ry="1.12"/><ellipse cx="377.83" cy="281.72" rx="1.0" ry="1.12"/><ellipse cx="380.46" cy="284.54" rx="1.0" ry="1.12"/><ellipse cx="383.1" cy="287.23" rx="1.0" ry="1.12"/><ellipse cx="385.73" cy="289.8" rx="1.0" ry="1.12"/><ellipse cx="388.36" cy="292.26" rx="1.0" ry="1.12"/><ellipse cx="390.99" cy="294.61" rx="1.0" ry="1.12"/><ellipse cx="393.63" cy="296.84" rx="1.0" ry="1.12"/><ellipse cx="396.26" cy="298.97" rx="1.0" ry="1.12"/><ellipse cx="398.89" cy="301" rx="1.0" ry="1.12"/><ellipse cx="401.52" cy="302.93" rx="1.0" ry="1.12"/><ellipse cx="404.16" cy="304.76" rx="1.0" ry="1.12"/><ellipse cx="406.79" cy="306.51" rx="1.0" ry="1.12"/><ellipse cx="409.42" cy="308.16" rx="1.0" ry="1.12"/><ellipse cx="412.06" cy="309.74" rx="1.0" ry="1.12"/><ellipse cx="414.69" cy="311.23" rx="1.0" ry="1.12"/><ellipse cx="417.32" cy="312.65" rx="1.0" ry="1.12"/><ellipse cx="419.95" cy="313.99" rx="1.0" ry="1.12"/><ellipse cx="422.59" cy="315.26" rx="1.0" ry="1.12"/><ellipse cx="425.22" cy="316.47" rx="1.0" ry="1.12"/><ellipse cx="427.85" cy="317.62" rx="1.0" ry="1.12"/><ellipse cx="430.48" cy="318.7" rx="1.0" ry="1.12"/><ellipse cx="433.12" cy="319.73" rx="1.0" ry="1.12"/><ellipse cx="435.75" cy="320.7" rx="1.0" ry="1.12"/><ellipse cx="438.38" cy="321.61" rx="1.0" ry="1.12"/><ellipse cx="441.01" cy="322.47" rx="1.0" ry="1.12"/><ellipse cx="443.65" cy="323.26" rx="1.0" ry="1.12"/><ellipse cx="446.28" cy="323.99" rx="1.0" ry="1.12"/><ellipse cx="448.91" cy="324.66" rx="1.0" ry="1.12"/><ellipse cx="451.54" cy="325.27" rx="1.0" ry="1.12"/><ellipse cx="454.18" cy="325.82" rx="1.0" ry="1.12"/><ellipse cx="456.81" cy="326.31" rx="1.0" ry="1.12"/><ellipse cx="459.44" cy="326.74" rx="1.0" ry="1.12"/><ellipse cx="462.08" cy="327.1" rx="1.0" ry="1.12"/><ellipse cx="464.71" cy="327.39" rx="1.0" ry="1.12"/><ellipse cx="467.34" cy="327.53" rx="1.0" ry="1.12"/><ellipse cx="469.97" cy="327.42" rx="1.0" ry="1.12"/><ellipse cx="472.61" cy="326.97" rx="1.0" ry="1.12"/><ellipse cx="475.24" cy="326.11" rx="1.0" ry="1.12"/><ellipse cx="477.87" cy="324.84" rx="1.0" ry="1.12"/><ellipse cx="480.5" cy="323.24" rx="1.0" ry="1.12"/><ellipse cx="483.14" cy="321.34" rx="1.0" ry="1.12"/><ellipse cx="485.77" cy="319.22" rx="1.0" ry="1.12"/><ellipse cx="488.4" cy="316.91" rx="1.0" ry="1.12"/><ellipse cx="491.03" cy="314.48" rx="1.0" ry="1.12"/><ellipse cx="493.67" cy="312" rx="1.0" ry="1.12"/><ellipse cx="496.3" cy="309.5" rx="1.0" ry="1.12"/></g>
<g fill="#2ca02c"><ellipse cx="372.8" cy="258.9" rx="1.0" ry="1.12"/><ellipse cx="380.7" cy="265.4" rx="1.0" ry="1.12"/><ellipse cx="388.8" cy="274" rx="1.0" ry="1.12"/><ellipse cx="421.4" cy="272.5" rx="1.0" ry="1.12"/><ellipse cx="386.6" cy="280.6" rx="1.0" ry="1.12"/><ellipse cx="375" cy="286.3" rx="1.0" ry="1.12"/><ellipse cx="387" cy="287.4" rx="1.0" ry="1.12"/><ellipse cx="370.8" cy="292.8" rx="1.0" ry="1.12"/><ellipse cx="396.2" cy="291.6" rx="1.0" ry="1.12"/><ellipse cx="411.8" cy="293.3" rx="1.0" ry="1.12"/><ellipse cx="387" cy="296.7" rx="1.0" ry="1.12"/><ellipse cx="381.3" cy="304.9" rx="1.0" ry="1.12"/><ellipse cx="421.4" cy="308.9" rx="1.0" ry="1.12"/><ellipse cx="410.9" cy="313.5" rx="1.0" ry="1.12"/><ellipse cx="413.5" cy="312.4" rx="1.0" ry="1.12"/><ellipse cx="419.5" cy="314.3" rx="1.0" ry="1.12"/><ellipse cx="412.9" cy="319.8" rx="1.0" ry="1.12"/><ellipse cx="420.1" cy="333" rx="1.0" ry="1.12"/><ellipse cx="421.9" cy="337.8" rx="1.0" ry="1.12"/><ellipse cx="442.7" cy="299.6" rx="1.0" ry="1.12"/><ellipse cx="432.4" cy="308.4" rx="1.0" ry="1.12"/><ellipse cx="438.5" cy="310.6" rx="1.0" ry="1.12"/><ellipse cx="444.9" cy="312.1" rx="1.0" ry="1.12"/><ellipse cx="468.8" cy="319.4" rx="1.0" ry="1.12"/><ellipse cx="452.3" cy="324.4" rx="1.0" ry="1.12"/></g>
<text class="tk" text-anchor="end" transform="matrix(0.95 0.002 0 1 358.6 203.95)">−5</text>
<text class="tk" text-anchor="end" transform="matrix(0.95 0.002 0 1 358.6 232.65)">−6</text>
<text class="tk" text-anchor="end" transform="matrix(0.95 0.002 0 1 358.6 260.85)">−7</text>
<text class="tk" text-anchor="end" transform="matrix(0.95 0.002 0 1 358.6 289.55)">−8</text>
<text class="tk" text-anchor="end" transform="matrix(0.95 0.002 0 1 358.6 318.35)">−9</text>
<text class="tk" text-anchor="middle" transform="matrix(0.95 0.002 0 1 367.3 344.05)">0</text>
<text class="tk" text-anchor="middle" transform="matrix(0.95 0.002 0 1 393.1 344.05)">0.2</text>
<text class="tk" text-anchor="middle" transform="matrix(0.95 0.002 0 1 418.9 344.05)">0.4</text>
<text class="tk" text-anchor="middle" transform="matrix(0.95 0.002 0 1 444.7 344.05)">0.6</text>
<text class="tk" text-anchor="middle" transform="matrix(0.95 0.002 0 1 470.5 344.05)">0.8</text>
<text class="tk" text-anchor="middle" transform="matrix(0.95 0.002 0 1 496.3 344.05)">1</text>
<text class="ti" text-anchor="middle" transform="matrix(1.0 0.002 0 1 431.8 352.15)">Time to maturity</text>
<text class="yl" text-anchor="middle" transform="matrix(0.002 -1 0.88 0 348.1 268.65)">log sigma</text>
<ellipse cx="513.6" cy="201.7" rx="0.85" ry="0.95" fill="#1f77b4"/><text class="lg" transform="matrix(0.905 0.002 0 1 519.6 203.1)">true mean</text>
<ellipse cx="513.6" cy="208" rx="0.85" ry="0.95" fill="#ff7f0e"/><text class="lg" transform="matrix(0.905 0.002 0 1 519.6 209.4)">fit</text>
<ellipse cx="513.6" cy="214.3" rx="0.85" ry="0.95" fill="#2ca02c"/><text class="lg" transform="matrix(0.905 0.002 0 1 519.6 215.7)">observations</text>
<text class="cap" text-anchor="middle" transform="matrix(1 0.002 0 1 442.4 373.75)">(h)</text>
</g>
</svg>
</body></html>
